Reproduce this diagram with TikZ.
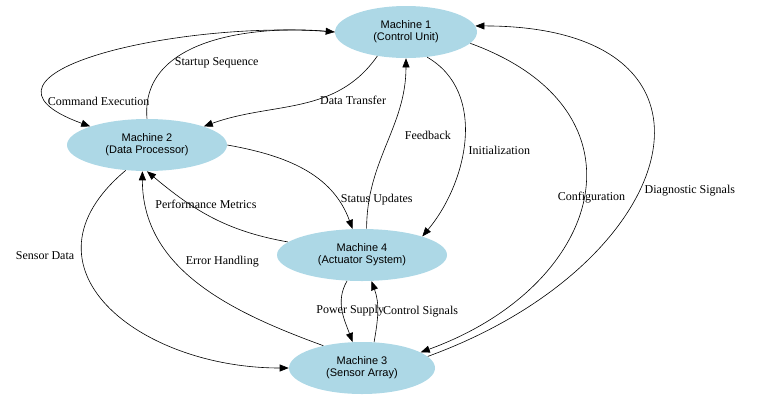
\documentclass[tikz,border=0pt]{standalone}
\usepackage{fontspec}
\setmainfont{Liberation Serif}
\newfontfamily\machfont{Liberation Sans}
\usetikzlibrary{arrows.meta,shapes.geometric}
\definecolor{machblue}{RGB}{173,216,230}
\begin{document}
\begin{tikzpicture}[x=1pt,y=-1pt,>={Triangle[length=9pt,width=7pt]},semithick,
                    machine/.style={ellipse,fill=machblue,inner sep=1pt,
                      minimum height=52pt,font=\machfont\fontsize{11}{12}\selectfont,align=center},
                    lbl/.style={font=\fontsize{12}{13}\selectfont,fill=none}]
  \useasboundingbox (0,0) rectangle (768,400);

  \node[machine,minimum width=142pt] (m1) at (406,32)  {Machine 1\\(Control Unit)};
  \node[machine,minimum width=160pt] (m2) at (147,145) {Machine 2\\(Data Processor)};
  \node[machine,minimum width=170pt] (m4) at (362,255) {Machine 4\\(Actuator System)};
  \node[machine,minimum width=146pt] (m3) at (362,368) {Machine 3\\(Sensor Array)};

  \path[->]
    (m1.west) edge [out=175,in=160,looseness=1.5] node[lbl,pos=0.84,anchor=west,xshift=-4pt] {Command Execution} (m2.north west)
    (m2.north) edge [out=95,in=175] node[lbl,pos=0.3,right=2pt] {Startup Sequence} (m1.west)
    (m1.220) edge [out=235,in=20] node[lbl,pos=0.42,right=2pt] {Data Transfer} (m2.north east)
    (m4.80) edge [out=90,in=270] node[lbl,pos=0.55,right=12pt] {Feedback} (m1.south)
    (m1.310) edge [out=330,in=50] node[lbl,pos=0.55,right=2pt] {Initialization} (m4.north east)
    (m2.east) edge [out=-10,in=110] node[lbl,pos=0.8,right] {Status Updates} (m4.110)
    (m4.170) edge [out=170,in=-40] node[lbl,pos=0.55,above=2pt] {Performance Metrics} (m2.south)
    (m2.230) edge [out=220,in=180,looseness=1.5] node[lbl,pos=0.3,left=4pt] {Sensor Data} (m3.west)
    (m3.150) edge [out=160,in=270] node[lbl,pos=0.62,right=6pt] {Error Handling} (m2.260)
    (m4.240) edge [out=240,in=110] node[lbl,pos=0.5,xshift=8pt] {Power Supply} (m3.110)
    (m3.65) edge [out=80,in=290] node[lbl,pos=0.5,right=2pt] {Control Signals} (m4.290)
    (m1.350) edge [out=-20,in=20,looseness=1.6] node[lbl,pos=0.5,xshift=8pt] {Configuration} (m3.15)
    (m3.10) edge [out=20,in=0,looseness=2.1] node[lbl,pos=0.42,right=2pt] {Diagnostic Signals} (m1.5);
\end{tikzpicture}
\end{document}
